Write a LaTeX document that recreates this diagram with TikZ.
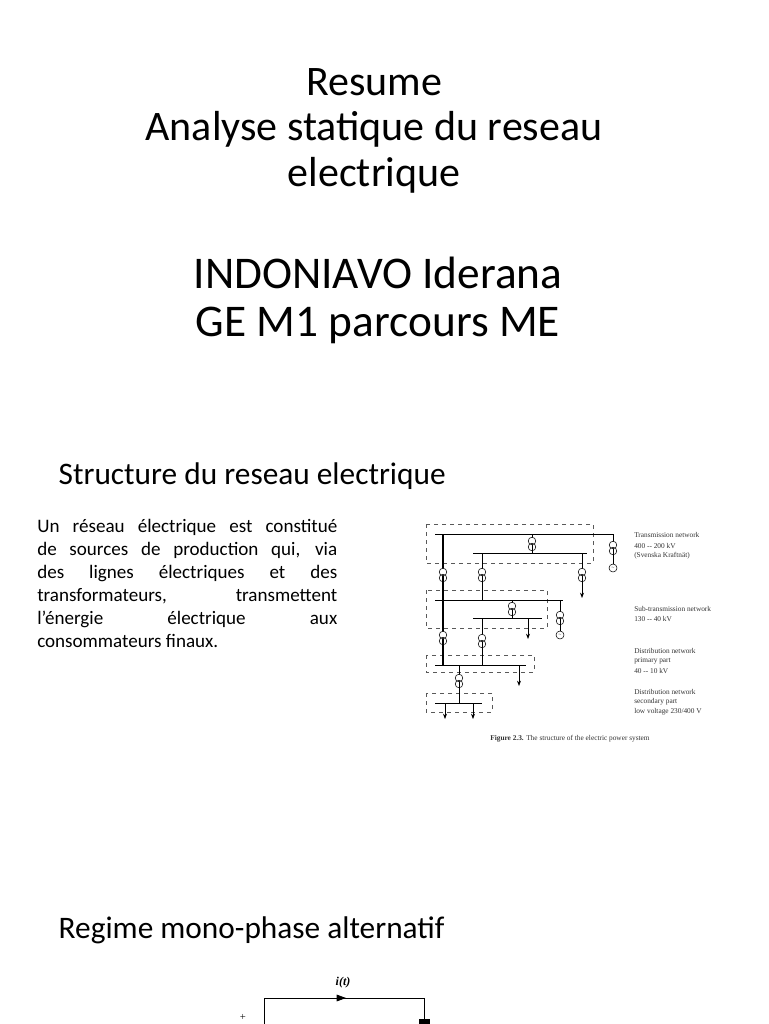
\documentclass[tikz,border=0pt]{standalone}
\usepackage{fontspec}
\setmainfont{Carlito}
\newfontfamily\tnr{Liberation Serif}
\usetikzlibrary{arrows.meta}
\newcommand{\jl}[1]{\makebox[225pt][s]{#1}}
\begin{document}
\begin{tikzpicture}[x=0.75pt,y=-0.75pt,
  bus/.style={line width=0.6pt},
  wire/.style={line width=0.5pt},
  zone/.style={dashed,line width=0.4pt,gray!70!black},
  load/.style={line width=0.5pt,-{Stealth[length=4pt,width=3pt]}},
  lbl/.style={font=\tnr\fontsize{5.5}{7}\selectfont,anchor=west,inner sep=0pt,text=black!80},
  trafo/.pic={\draw[fill=white,line width=0.4pt] (0,-3) circle[radius=3.8]; \draw[line width=0.4pt] (0,3) circle[radius=3.8];},
  gen/.pic={\draw[fill=white,line width=0.4pt] (0,0) circle[radius=4]; \node[font=\tiny,inner sep=0] at (0,0) {\scalebox{0.5}{$\sim$}};}]
\useasboundingbox (0,0) rectangle (768,1024);
\fill[white] (0,0) rectangle (768,1024);
% titles
\node (t1) at (374,82) {\fontsize{31.5}{34}\selectfont Resume};
\node (t2) at (374,129) {\fontsize{31.5}{34}\selectfont Analyse statique du reseau};
\node (t3) at (374,175) {\fontsize{31.5}{34}\selectfont electrique};
\node (t4) at (378,273) {\fontsize{34}{37}\selectfont INDONIAVO Iderana};
\node (t5) at (378,325) {\fontsize{34}{37}\selectfont GE M1 parcours ME};
\node[anchor=west] (s1) at (54,476) {\fontsize{23.5}{26}\selectfont Structure du reseau electrique};
\node[anchor=west] (s2) at (54,930) {\fontsize{23.5}{26}\selectfont Regime mono-phase alternatif};
\node[anchor=north west,align=left,inner sep=0pt,font=\fontsize{14.3}{17.3}\selectfont] (para) at (37,519)
 {\jl{Un réseau électrique est constitué}\\\jl{de sources de production qui, via}\\\jl{des lignes électriques et des}\\\jl{transformateurs, transmettent}\\\jl{l'énergie électrique aux}\\consommateurs finaux.};
% zones
\draw[zone] (426,524) rectangle (593,563);
\draw[zone] (426,590) rectangle (547,628);
\draw[zone] (426,655) rectangle (534,672);
\draw[zone] (426,693) rectangle (492,712);
% buses
\coordinate (b1l) at (435,534); \coordinate (b1r) at (613,534);
\draw[bus] (b1l) -- (b1r);
\draw[bus] (473,553) -- (587,553);
\draw[bus] (435,600) -- (563,600);
\draw[bus] (473,618) -- (542,618);
\draw[bus] (435,665) -- (526,665);
\draw[bus] (435,703) -- (482,703);
% trunk
\draw[wire,line width=0.8pt] (443,534) -- (443,665);
\pic at (443,575) {trafo}; \pic at (443,638) {trafo};
% level1 to level2
\draw[wire] (532,534) -- (532,553); \pic at (532,544) {trafo};
\draw[wire] (613,534) -- (613,568); \pic at (613,548) {trafo}; \pic at (613,568) {gen};
\draw[wire] (482,553) -- (482,600); \pic at (482,575) {trafo};
\draw[load] (582,553) -- (582,598); \pic at (582,575) {trafo};
% level3
\draw[wire] (512,600) -- (512,618); \pic at (512,609) {trafo};
\draw[wire] (560,600) -- (560,635); \pic at (560,618) {trafo}; \pic at (560,635) {gen};
\draw[load] (528,618) -- (528,639);
\draw[wire] (482,618) -- (482,665); \pic at (482,641) {trafo};
% level 4
\draw[load] (519,665) -- (519,686);
\draw[wire] (459,665) -- (459,703); \pic at (459,681) {trafo};
\draw[load] (445,703) -- (445,719);
\draw[load] (473,703) -- (473,719);
% labels
\node[lbl] (l1) at (634,535) {Transmission network};
\node[lbl] (l2) at (634,546) {400 -- 200 kV};
\node[lbl] (l3) at (634,556) {(Svenska Kraftnät)};
\node[lbl] (l4) at (634,609) {Sub-transmission network};
\node[lbl] (l5) at (634,619) {130 -- 40 kV};
\node[lbl] (l6) at (634,651) {Distribution network};
\node[lbl] (l7) at (634,661) {primary part};
\node[lbl] (l8) at (634,671) {40 -- 10 kV};
\node[lbl] (l9) at (634,692) {Distribution network};
\node[lbl] (l10) at (634,702) {secondary part};
\node[lbl] (l11) at (634,712) {low voltage 230/400 V};
\node[font=\tnr\fontsize{5.5}{7}\selectfont,text=black!80] (cap) at (570,739) {\textbf{Figure 2.3.} The structure of the electric power system};
% circuit
\node[font=\tnr\fontsize{9}{10}\selectfont\bfseries\itshape] (it) at (343,983) {i(t)};
\coordinate (c1) at (264,1030); \coordinate (c2) at (264,998);
\coordinate (c3) at (424,998); \coordinate (c4) at (424,1020);
\draw[wire,line width=0.6pt] (c1) -- (c2) -- (c3) -- (c4);
\draw[line width=0.6pt,-{Triangle[length=7pt,width=5pt]}] (310,998) -- (346,998);
\fill (419,1019) rectangle (430,1026);
\node[font=\tnr\fontsize{8}{9}\selectfont,inner sep=0pt] (plus) at (243,1017) {+};
\end{tikzpicture}
\end{document}
